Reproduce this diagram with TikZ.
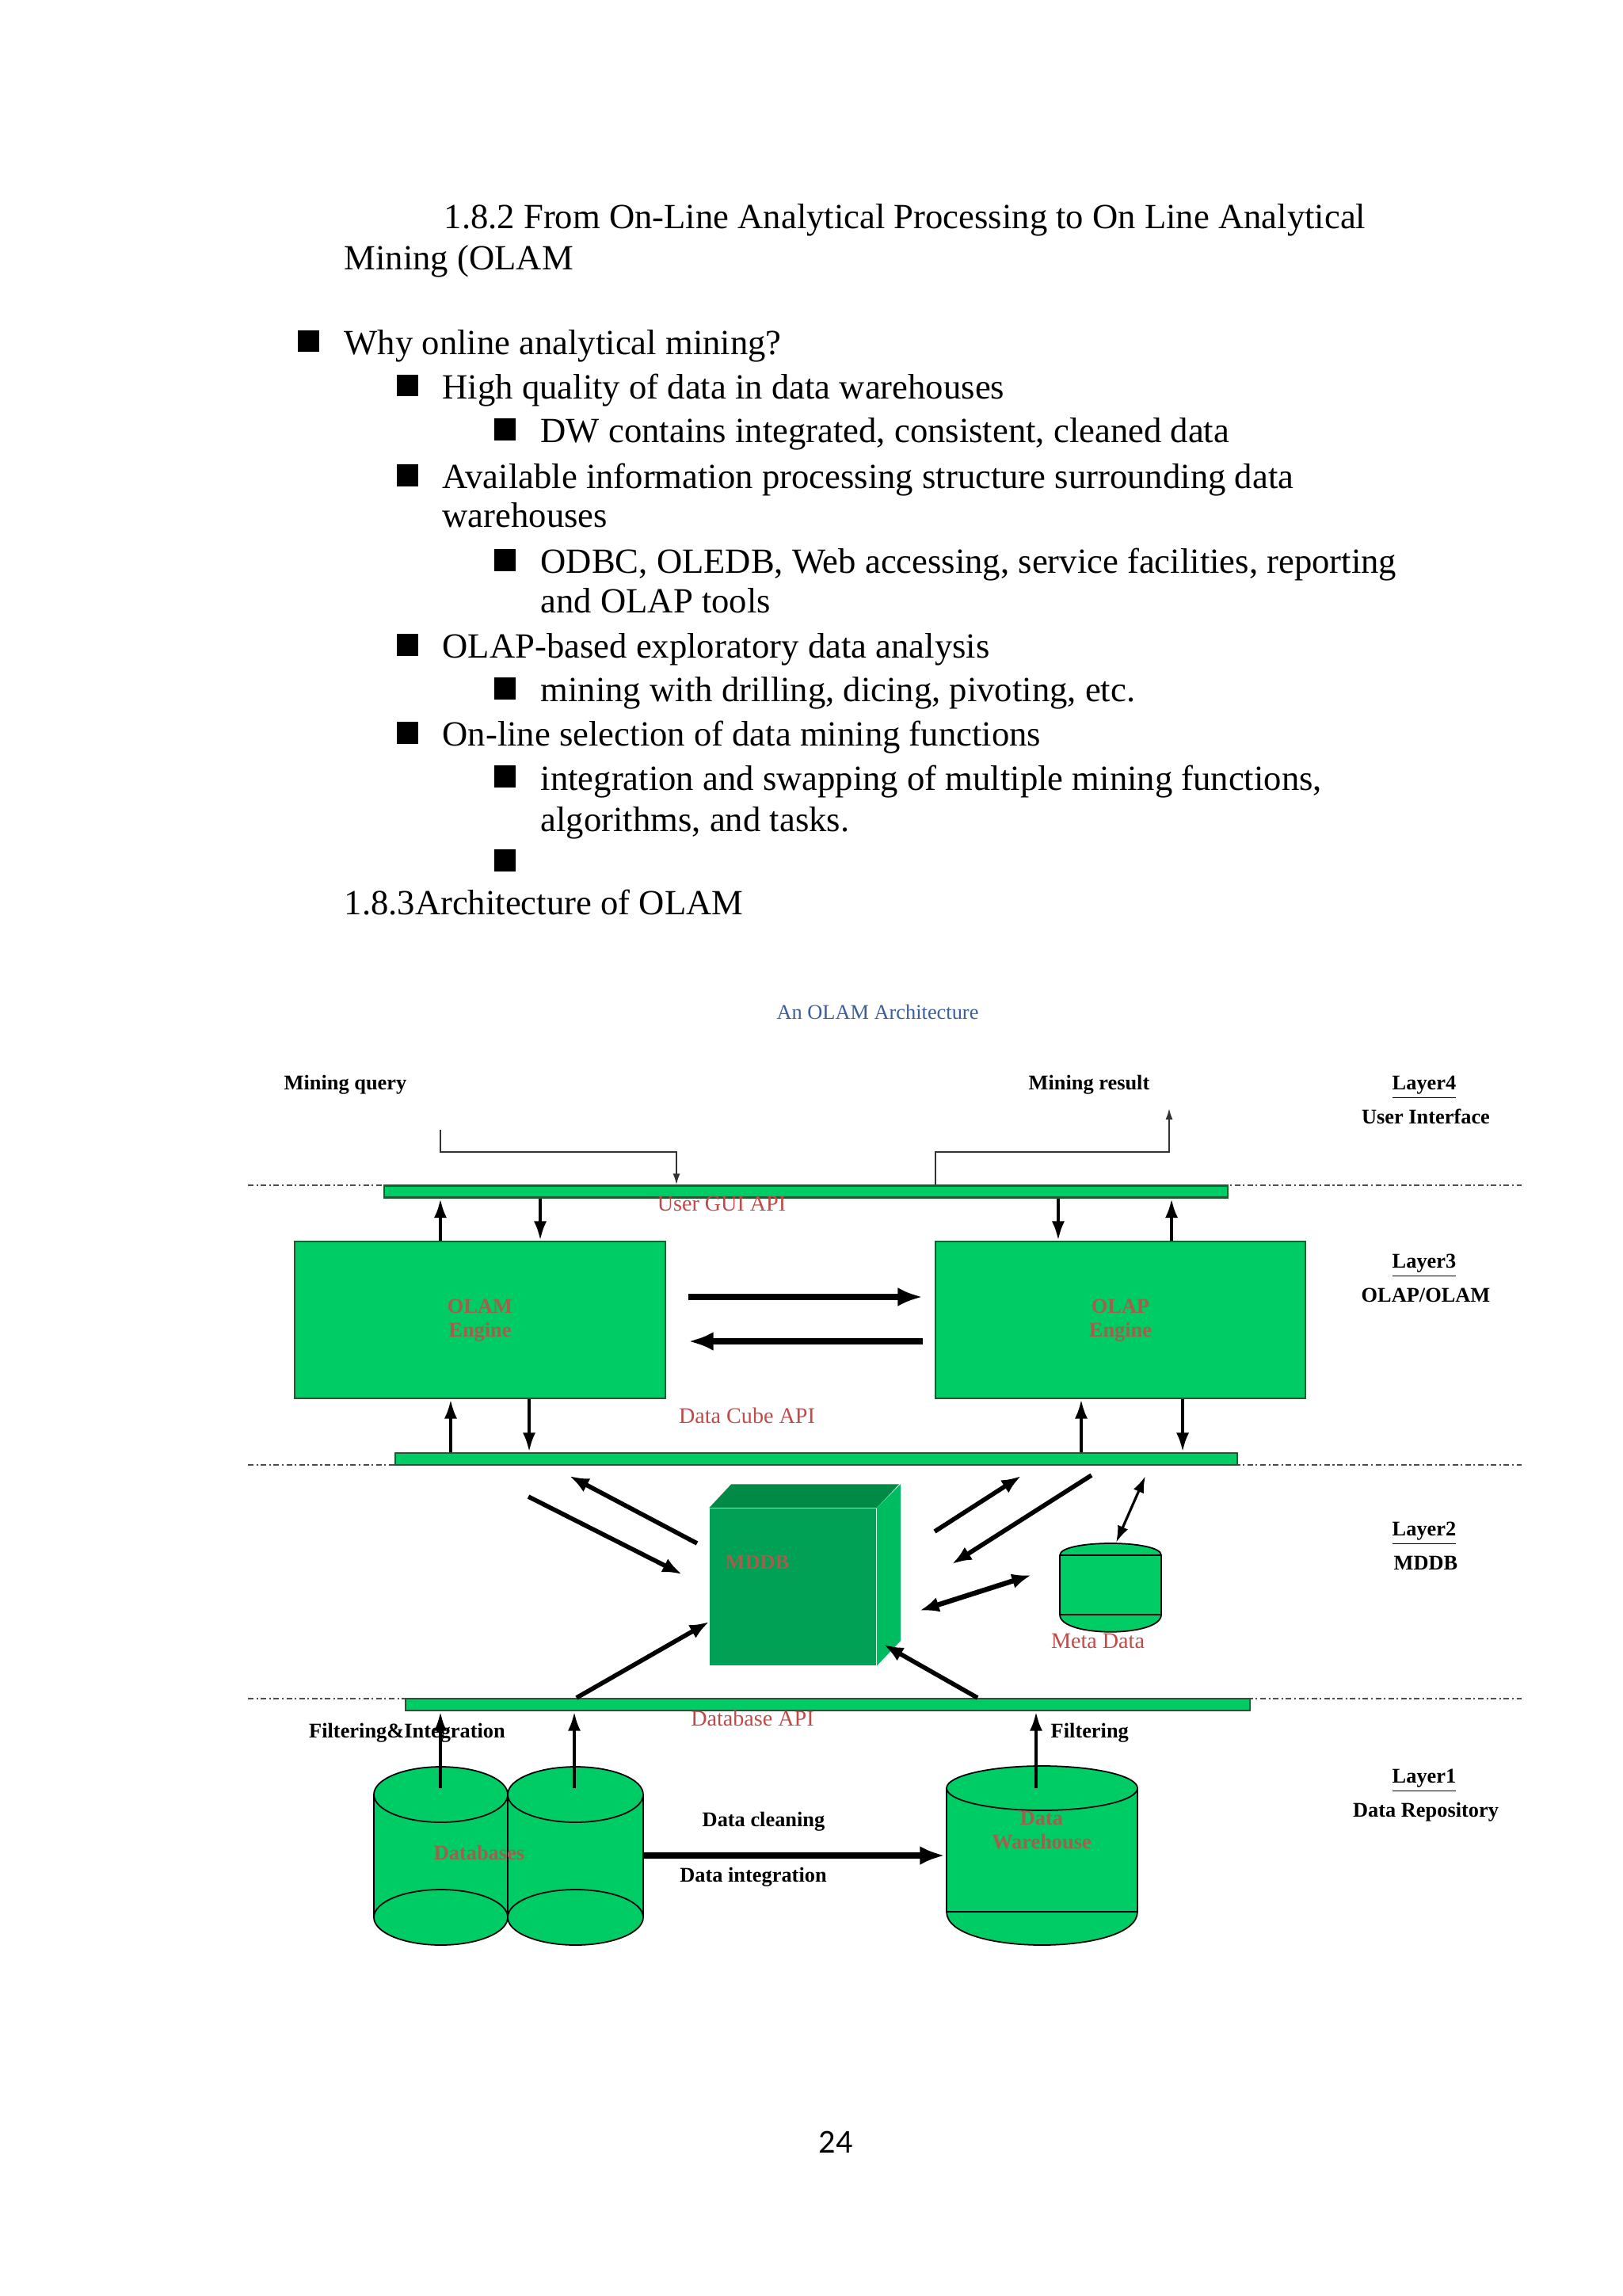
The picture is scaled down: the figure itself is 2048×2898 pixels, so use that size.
\documentclass[tikz,border=0pt]{standalone}
\usepackage{fontspec}
\setmainfont{Liberation Serif}
\newfontfamily\pagenumfont{Carlito}
\usetikzlibrary{arrows.meta, positioning}
\definecolor{olamgreen}{HTML}{00CC66}
\definecolor{olamedge}{HTML}{1F5A33}
\definecolor{cubefront}{HTML}{00A055}
\definecolor{cubetop}{HTML}{008A45}
\definecolor{cubeside}{HTML}{00BC60}
\definecolor{olamred}{HTML}{C04A48}
\definecolor{olambrown}{HTML}{A0604C}
\definecolor{olamblue}{HTML}{3B5E9C}
\tikzset{
  body/.style={anchor=base west, inner sep=0pt, font=\fontsize{12.7}{15}\selectfont},
  sq/.style={rectangle, fill=black, minimum size=0.27cm, inner sep=0pt},
  lbl/.style={anchor=base, inner sep=0pt, font=\bfseries\fontsize{7.5}{9}\selectfont},
  apilbl/.style={anchor=base, inner sep=0pt, text=olamred, font=\fontsize{8}{9.5}\selectfont},
  inlbl/.style={inner sep=0pt, align=center, text=olambrown, font=\bfseries\fontsize{7.5}{8.5}\selectfont},
  bar/.style={rectangle, fill=olamgreen, draw=olamedge, line width=0.6pt, inner sep=0pt, minimum height=0.15cm},
  engine/.style={rectangle, fill=olamgreen, draw=olamedge, line width=0.5pt, inner sep=0pt,
    minimum width=4.68cm, minimum height=1.98cm},
  sepline/.style={line width=0.5pt, black!70, dash pattern=on 2pt off 1pt on 0.6pt off 1pt},
  thinarr/.style={-{Latex[length=4pt, width=2.6pt]}, line width=0.6pt, black!80},
  arr/.style={-{Latex[length=7pt, width=4.6pt]}, line width=1.3pt},
  diagarr/.style={-{Latex[length=7pt, width=5.4pt]}, line width=1.6pt},
  bigarr/.style={-{Latex[length=9pt, width=6.8pt]}, line width=2.2pt},
  cyl/.style={fill=olamgreen, draw=black, line width=0.5pt},
}
\begin{document}
\begin{tikzpicture}[x=0.01cm, y=-0.01cm]
\useasboundingbox (0,0) rectangle (2048,2898);
\fill[white] (0,0) rectangle (2048,2898);

% page text
\node[body] (h1) at (560,289) {1.8.2 From On-Line Analytical Processing to On Line Analytical};
\node[body] (h1b) at (434,341) {Mining (OLAM};
\node[sq] (s1) at (389.5,431) {};
\node[body] (t1) at (434,448) {Why online analytical mining?};
\node[sq] (s2) at (514.5,487) {};
\node[body] (t2) at (558,504) {High quality of data in data warehouses};
\node[sq] (s3) at (637.5,542) {};
\node[body] (t3) at (682,559) {DW contains integrated, consistent, cleaned data};
\node[sq] (s4) at (514.5,600) {};
\node[body] (t4) at (558,617) {Available information processing structure surrounding data};
\node[body] (t4b) at (558,666) {warehouses};
\node[sq] (s5) at (637.5,707) {};
\node[body] (t5) at (682,724) {ODBC, OLEDB, Web accessing, service facilities, reporting};
\node[body] (t5b) at (682,774) {and OLAP tools};
\node[sq] (s6) at (514.5,814) {};
\node[body] (t6) at (558,831) {OLAP-based exploratory data analysis};
\node[sq] (s7) at (637.5,869) {};
\node[body] (t7) at (682,886) {mining with drilling, dicing, pivoting, etc.};
\node[sq] (s8) at (514.5,925) {};
\node[body] (t8) at (558,942) {On-line selection of data mining functions};
\node[sq] (s9) at (637.5,980) {};
\node[body] (t9) at (682,997) {integration and swapping of multiple mining functions,};
\node[body] (t9b) at (682,1049) {algorithms, and tasks.};
\node[sq] (s10) at (637.5,1086) {};
\node[body] (h2) at (434,1154) {1.8.3Architecture of OLAM};

% diagram title and top labels
\node[anchor=base, inner sep=0pt, text=olamblue, font=\fontsize{7.5}{9}\selectfont] (title) at (1108,1286) {An OLAM Architecture};
\node[lbl] (mq) at (436,1375) {Mining query};
\node[lbl] (mr) at (1375,1375) {Mining result};

% layer labels
\node[lbl] (l4) at (1798,1375) {\underline{Layer4}};
\node[lbl] (l4t) at (1800,1418) {User Interface};
\node[lbl] (l3) at (1798,1600) {\underline{Layer3}};
\node[lbl] (l3t) at (1800,1643) {OLAP/OLAM};
\node[lbl] (l2) at (1798,1938) {\underline{Layer2}};
\node[lbl] (l2t) at (1800,1981) {MDDB};
\node[lbl] (l1) at (1798,2250) {\underline{Layer1}};
\node[lbl] (l1t) at (1800,2293) {Data Repository};

% layer separators
\draw[sepline] (313,1496) -- (1921,1496);
\draw[sepline] (313,1849) -- (1921,1849);
\draw[sepline] (313,2144) -- (1921,2144);

% API bars
\node[bar, minimum width=10.65cm] (gui) at (1017.5,1504) {};
\node[bar, minimum width=10.63cm] (cube) at (1030.5,1841.5) {};
\node[bar, minimum width=10.66cm] (dbbar) at (1045,2151.5) {};
\node[apilbl] (guit) at (911,1528) {User GUI API};
\node[apilbl] (cubet) at (943,1796) {Data Cube API};
\node[apilbl] (dbt) at (950,2178) {Database API};

% engines
\node[engine] (olam) at (606,1666) {};
\node[engine, minimum width=4.67cm] (olap) at (1414.5,1666) {};
\node[inlbl] (olamt) at (606,1667) {OLAM\\Engine};
\node[inlbl] (olapt) at (1414.5,1667) {OLAP\\Engine};

% user interface connectors
\coordinate (qsrc) at (556,1426);
\coordinate (qdrop) at (854,1454);
\coordinate (rbend) at (1181,1454);
\coordinate (rrise) at (1476,1399);
\draw[thinarr] (qsrc) |- (qdrop) -- (qdrop |- gui.north);
\draw[thinarr] (rbend |- gui.north) -- (rbend) -| (rrise);

% engines to bars
\draw[arr] ([xshift=-0.5cm]olam.north) -- ([xshift=-0.5cm]olam.north |- gui.south);
\draw[arr] ([xshift=0.76cm]olam.north |- gui.south) -- ([xshift=0.76cm]olam.north);
\draw[arr] ([xshift=-0.785cm]olap.north |- gui.south) -- ([xshift=-0.785cm]olap.north);
\draw[arr] ([xshift=0.645cm]olap.north) -- ([xshift=0.645cm]olap.north |- gui.south);
\draw[arr] ([xshift=-0.37cm]olam.south |- cube.north) -- ([xshift=-0.37cm]olam.south);
\draw[arr] ([xshift=0.62cm]olam.south) -- ([xshift=0.62cm]olam.south |- cube.north);
\draw[arr] ([xshift=-0.495cm]olap.south |- cube.north) -- ([xshift=-0.495cm]olap.south);
\draw[arr] ([xshift=0.785cm]olap.south) -- ([xshift=0.785cm]olap.south |- cube.north);
\draw[bigarr] ([xshift=0.28cm, yshift=0.29cm]olam.east) -- ([xshift=-0.15cm, yshift=0.29cm]olap.west);
\draw[bigarr] ([xshift=-0.15cm, yshift=-0.27cm]olap.west) -- ([xshift=0.28cm, yshift=-0.27cm]olam.east);

% MDDB cube
\node[rectangle, fill=cubefront, inner sep=0pt, minimum width=2.1cm, minimum height=1.98cm] (mddb) at (1001,2003) {};
\fill[cubetop] (mddb.north west) -- ++(28,-30) -- ++(212,0) -- (mddb.north east) -- cycle;
\fill[cubeside] (mddb.north east) -- ++(30,-30) -- ++(0,198) -- (mddb.south east) -- cycle;
\node[inlbl, anchor=base] (mddbt) at (956,1980) {MDDB};

% meta data
\draw[cyl] (1338,1963) .. controls (1338,1943) and (1466,1943) .. (1466,1963) -- (1466,2038)
  .. controls (1466,2067) and (1338,2067) .. (1338,2038) -- cycle;
\draw[line width=0.8pt] (1338,1963) -- (1466,1963) (1338,2038) -- (1466,2038);
\node[apilbl] (metat) at (1386,2080) {Meta Data};

% layer 2 connectors
\coordinate (a1s) at (667,1889);
\coordinate (a1e) at (861,1987);
\coordinate (a2s) at (880,1948);
\coordinate (a2e) at (719,1863);
\coordinate (a3s) at (1180,1933);
\coordinate (a3e) at (1289,1863);
\coordinate (a4s) at (1378,1862);
\coordinate (a4e) at (1202,1974);
\coordinate (a5s) at (1446,1863);
\coordinate (a5e) at (1409,1947);
\coordinate (a6s) at (1302,1988);
\coordinate (a6e) at (1161,2033);
\draw[diagarr] (a1s) -- (a1e);
\draw[diagarr] (a2s) -- (a2e);
\draw[diagarr] (a3s) -- (a3e);
\draw[diagarr] (a4s) -- (a4e);
\draw[{Latex[length=6pt, width=4pt]}-{Latex[length=6pt, width=4pt]}, line width=0.9pt] (a5s) -- (a5e);
\draw[{Latex[length=7pt, width=5.4pt]}-{Latex[length=7pt, width=5.4pt]}, line width=1.8pt] (a6s) -- (a6e);
\draw[diagarr] ([xshift=-3.17cm]dbbar.north) -- ([yshift=-0.44cm]mddb.west);
\draw[diagarr] ([xshift=1.89cm]dbbar.north) -- ([xshift=0.09cm, yshift=0.27cm]mddb.south east);

% databases
\fill[olamgreen] (472,2265) rectangle (641,2420);
\draw[cyl] (556.5,2420) ellipse [x radius=84.5, y radius=35];
\draw[line width=0.5pt] (472,2265) -- (472,2420) (641,2265) -- (641,2420);
\draw[cyl] (556.5,2265) ellipse [x radius=84.5, y radius=35];
\fill[olamgreen] (641,2265) rectangle (812,2420);
\draw[cyl] (726.5,2420) ellipse [x radius=85.5, y radius=35];
\draw[line width=0.5pt] (641,2265) -- (641,2420) (812,2265) -- (812,2420);
\draw[cyl] (726.5,2265) ellipse [x radius=85.5, y radius=35];
\node[inlbl, anchor=base] (dbst) at (605,2347) {Databases};

% data warehouse
\draw[cyl] (1195,2257) -- (1195,2413) .. controls (1195,2469) and (1436,2469) .. (1436,2413) -- (1436,2257);
\draw[line width=0.8pt] (1195,2413) -- (1436,2413);
\draw[cyl] (1315.5,2257) ellipse [x radius=120.5, y radius=28];
\node[inlbl] (dwt) at (1315,2310) {Data\\Warehouse};

% layer 1 connectors
\coordinate (dbA) at (556,2257);
\coordinate (dbB) at (725,2257);
\coordinate (dwA) at (1308,2257);
\coordinate (dbE) at (812,2342);
\coordinate (dwW) at (1193,2342);
\draw[arr] (dbA) -- (dbA |- dbbar.south);
\draw[arr] (dbB) -- (dbB |- dbbar.south);
\draw[arr] (dwA) -- (dwA |- dbbar.south);
\draw[bigarr] (dbE) -- (dwW);
\node[lbl] (fint) at (514,2193) {Filtering\&Integration};
\node[lbl, anchor=base west] (filt) at (1326,2193) {Filtering};
\node[lbl] (dct) at (964,2305) {Data cleaning};
\node[lbl] (dit) at (951,2375) {Data integration};

% page number
\node[anchor=base, inner sep=0pt, font=\pagenumfont\fontsize{12}{14}\selectfont] (pg) at (1055,2717) {24};
\end{tikzpicture}
\end{document}
